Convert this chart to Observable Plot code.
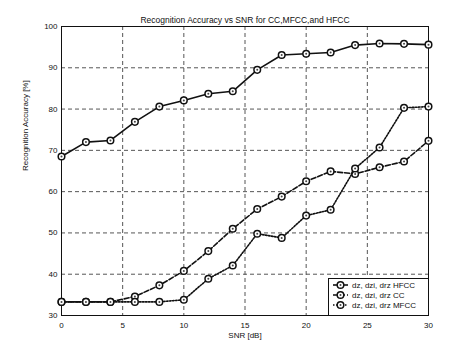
<!DOCTYPE html>
<html><head><meta charset="utf-8">
<script src="https://cdn.jsdelivr.net/npm/d3@7"></script>
<script src="https://cdn.jsdelivr.net/npm/@observablehq/plot@0.6"></script>
<style>
body{margin:0;background:#fff;font-family:"Liberation Sans",Arial,sans-serif}
#wrap{position:relative;width:474px;height:355px}
#legend{position:absolute;left:328px;top:278px;width:99px;height:36px;border:1px solid #111;background:#fff;box-sizing:content-box}
.row{position:absolute;left:0;height:10px;display:flex;align-items:center;font-size:8px;color:#111;white-space:nowrap}
.row svg{margin-left:4px;margin-right:4px}
</style></head>
<body><div id="wrap"></div>
<script>
const snr = [0,2,4,6,8,10,12,14,16,18,20,22,24,26,28,30];
const hfcc = [68.5,72.0,72.4,76.9,80.6,82.1,83.7,84.3,89.5,93.1,93.4,93.7,95.5,95.9,95.8,95.6];
const cc   = [33.3,33.3,33.3,34.6,37.3,40.8,45.6,51.0,55.8,58.8,62.5,64.9,64.3,65.9,67.3,72.3];
const mfcc = [33.3,33.3,33.3,33.3,33.3,33.8,38.9,42.1,49.8,48.8,54.2,55.6,65.6,70.7,80.3,80.6];
const seriesNames = ["dz, dzi, drz HFCC","dz, dzi, drz CC","dz, dzi, drz MFCC"];
const xTicks = [0,5,10,15,20,25,30];
const yTicks = [30,40,50,60,70,80,90,100];
const titleText = "Recognition Accuracy vs SNR for CC,MFCC,and HFCC";
const xLabel = "SNR [dB]";
const yLabel = "Recognition Accuracy [%]";

const styles = [
  {vals: hfcc, dash: null},
  {vals: cc, dash: "5,2"},
  {vals: mfcc, dash: "1.5,1.5"}
];
const ink = "#111";

const marks = [
  Plot.gridX(xTicks.slice(1,-1), {stroke:"#555", strokeOpacity:1, strokeWidth:1, strokeDasharray:"4,3"}),
  Plot.gridY(yTicks.slice(1,-1), {stroke:"#555", strokeOpacity:1, strokeWidth:1, strokeDasharray:"4,3"}),
  Plot.frame({stroke:ink, strokeWidth:1}),
  Plot.axisX({ticks:xTicks, tickSize:0, tickPadding:7, label:null}),
  Plot.axisY({ticks:yTicks, tickSize:0, tickPadding:4, label:null}),
];
styles.forEach(s => {
  const data = snr.map((x,i)=>({x, y:s.vals[i]}));
  marks.push(Plot.line(data, {x:"x", y:"y", stroke:ink, strokeWidth:1.6, strokeDasharray:s.dash}));
  marks.push(Plot.dot(data, {x:"x", y:"y", r:3.3, stroke:ink, strokeWidth:1.5, fill:"#fff"}));
  marks.push(Plot.dot(data, {x:"x", y:"y", r:1, fill:"#444", stroke:null}));
});
marks.push(Plot.text([titleText], {frameAnchor:"top", dy:-10, fontSize:8.5, fill:ink}));
marks.push(Plot.text([xLabel], {frameAnchor:"bottom", dy:22, fontSize:8, fill:ink}));
marks.push(Plot.text([yLabel], {frameAnchor:"left", dx:-36, rotate:-90, fontSize:8, fill:ink}));

const chart = Plot.plot({
  width:474, height:355,
  marginLeft:61, marginRight:46, marginTop:26, marginBottom:40,
  x:{domain:[0,30]},
  y:{domain:[30,100]},
  style:{fontFamily:"'Liberation Sans', Arial, sans-serif", fontSize:"8px", color:ink, background:"#fff"},
  marks
});
const wrap = document.getElementById("wrap");
wrap.appendChild(chart);

const legend = document.createElement("div");
legend.id = "legend";
seriesNames.forEach((name,i) => {
  const row = document.createElement("div");
  row.className = "row";
  row.style.top = (1 + i*10) + "px";
  const dash = styles[i].dash ? `stroke-dasharray="${styles[i].dash}"` : "";
  row.innerHTML = `<svg width="15" height="10"><line x1="0" y1="5" x2="15" y2="5" stroke="${ink}" stroke-width="1.6" ${dash}/><circle cx="7.5" cy="5" r="3.3" stroke="${ink}" stroke-width="1.5" fill="#fff"/><circle cx="7.5" cy="5" r="1" fill="#444"/></svg><span>${name}</span>`;
  legend.appendChild(row);
});
wrap.appendChild(legend);
</script></body></html>
